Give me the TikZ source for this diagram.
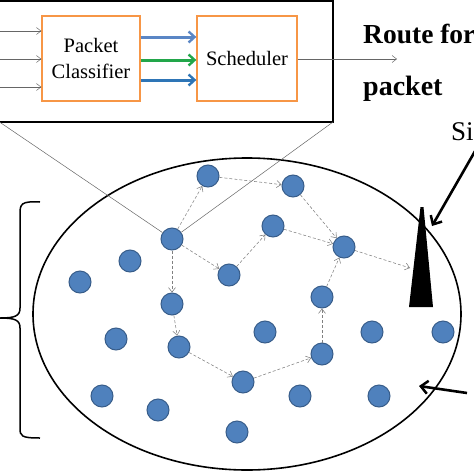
\documentclass[tikz,border=0pt]{standalone}
\usepackage{fontspec}
\setmainfont{Liberation Serif}
\usetikzlibrary{arrows.meta}
\definecolor{nodeblue}{HTML}{4F81BD}
\definecolor{nodeedge}{HTML}{385D8A}
\definecolor{boxorange}{HTML}{F79646}
\definecolor{flowsteel}{HTML}{5A86C5}
\definecolor{flowgreen}{HTML}{22A64A}
\definecolor{flowblue}{HTML}{2E75B6}
\begin{document}
\begin{tikzpicture}[x=1pt, y=-1pt, >={Straight Barb[length=4.5pt,width=7pt]},
    sensor/.style={circle, fill=nodeblue, draw=nodeedge, line width=1pt, minimum size=22pt, inner sep=0pt},
    hop/.style={->, densely dashed, draw=gray, line width=0.55pt},
    block/.style={draw=boxorange, line width=1.3pt, minimum height=85pt, align=center, inner sep=0pt, font=\fontsize{20.5}{26}\selectfont},
    feed/.style={->, draw=gray!80!black, line width=0.5pt},
    flow/.style={-{Straight Barb[length=6pt,width=11pt,line width=2.4pt]}, line width=3pt},
    pointer/.style={-{Straight Barb[length=7pt,width=13pt,line width=2.5pt]}, line width=2.6pt},
    callout/.style={draw=gray!80!black, line width=0.5pt},
    bigtext/.style={anchor=base west, inner sep=0pt, font=\fontsize{27}{30}\selectfont}]
    \useasboundingbox (0,0) rectangle (474,474);
    % zoomed view of the node
    \draw[line width=2pt] (-3,1) rectangle (333,122);
    \node[block, minimum width=98pt] (clf) at (91,58.5) {Packet\\Classifier};
    \node[block, minimum width=100pt] (sch) at (247,58.5) {Scheduler};
    \foreach \y in {31,59,87}
        \draw[feed] (-1,\y) -- (clf.west |- -1,\y);
    \draw[flow, draw=flowsteel] (clf.east |- 0,37) -- (sch.west |- 0,37);
    \draw[flow, draw=flowgreen] (clf.east |- 0,60) -- (sch.west |- 0,60);
    \draw[flow, draw=flowblue] (clf.east |- 0,80) -- (sch.west |- 0,80);
    \coordinate (outend) at (397,59);
    \draw[feed] (sch.east |- outend) -- (outend);
    \node[bigtext, font=\bfseries\fontsize{27.5}{30}\selectfont] (route) at (363,43) {Route for};
    \node[bigtext, font=\bfseries\fontsize{28}{30}\selectfont] (pkt) at (363,95) {packet};
    \node[bigtext] (sink) at (451,140) {Si};
    % network field
    \draw[line width=1.6pt] (247,314) ellipse [x radius=214pt, y radius=156pt];
    \draw[line width=1.5pt] (40,202) .. controls (21,201) and (20,204) .. (20,214) -- (20,308)
        .. controls (20,316) and (15,318) .. (0,318) .. controls (15,318) and (20,320) .. (20,328)
        -- (20,428) .. controls (20,436) and (21,438) .. (40,438);
    \fill (409,307) -- (420.5,207) -- (423.5,207) -- (433,307) -- cycle;
    \foreach \i/\x/\y in {1/208/176, 2/293/186, 3/273/226, 4/172/239, 5/344/247, 6/130/261,
        7/80/282, 8/229/275, 9/172/304, 10/322/297, 11/116/339, 12/179/347, 13/265/332,
        14/372/332, 15/443/332, 16/322/354, 17/243/382, 18/102/396, 19/158/410, 20/300/396,
        21/379/396, 22/237/432}
        \node[sensor] (n\i) at (\x,\y) {};
    \coordinate (zbl) at (-2,121);
    \coordinate (zbr) at (333,122);
    \draw[callout] (zbl) -- (n4);
    \draw[callout] (zbr) -- (n4);
    \foreach \a/\b in {4/1, 1/2, 2/5, 3/5, 4/8, 8/3, 4/9, 9/12, 12/17, 17/16, 16/10, 10/5}
        \draw[hop] (n\a) -- (n\b);
    \coordinate (towerin) at (410,268);
    \draw[hop] (n5) -- (towerin);
    \coordinate (sinkfrom) at (478,146);
    \coordinate (sinktip) at (432,226);
    \draw[pointer] (sinkfrom) -- (sinktip);
    \coordinate (fieldfrom) at (467,393);
    \coordinate (fieldtip) at (419,386);
    \draw[pointer] (fieldfrom) -- (fieldtip);
\end{tikzpicture}
\end{document}
